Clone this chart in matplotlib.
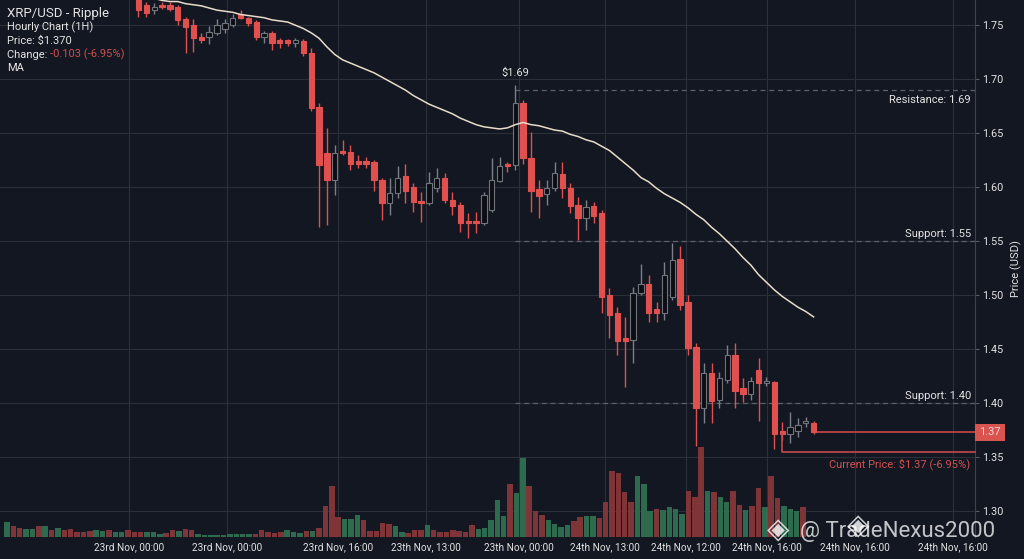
import numpy as np
import matplotlib
matplotlib.use("Agg")
import matplotlib.pyplot as plt
import matplotlib.transforms as mtransforms

plt.rcParams['font.family'] = ['Roboto', 'DejaVu Sans']

# hourly candles, oldest first
opens = [1.776, 1.769, 1.764, 1.769, 1.769, 1.767, 1.756, 1.750, 1.739, 1.739,
         1.743, 1.747, 1.750, 1.760, 1.757, 1.753, 1.739, 1.743, 1.736, 1.736,
         1.734, 1.735, 1.724, 1.674, 1.632, 1.607, 1.634, 1.633, 1.624, 1.624,
         1.623, 1.607, 1.585, 1.595, 1.610, 1.600, 1.587, 1.585, 1.599, 1.609,
         1.588, 1.584, 1.569, 1.569, 1.567, 1.579, 1.606, 1.622, 1.621, 1.678,
         1.627, 1.598, 1.594, 1.599, 1.612, 1.599, 1.584, 1.572, 1.583, 1.576,
         1.500, 1.484, 1.460, 1.459, 1.502, 1.510, 1.487, 1.484, 1.498, 1.534,
         1.494, 1.452, 1.396, 1.428, 1.403, 1.422, 1.445, 1.414, 1.409, 1.431,
         1.419, 1.420, 1.374, 1.372, 1.374, 1.382, 1.382]
highs = [1.780, 1.772, 1.771, 1.772, 1.772, 1.769, 1.758, 1.756, 1.743, 1.749,
         1.756, 1.756, 1.760, 1.764, 1.758, 1.755, 1.745, 1.745, 1.738, 1.737,
         1.738, 1.737, 1.729, 1.678, 1.655, 1.639, 1.644, 1.639, 1.630, 1.628,
         1.625, 1.609, 1.609, 1.620, 1.622, 1.604, 1.596, 1.614, 1.618, 1.613,
         1.596, 1.586, 1.576, 1.577, 1.596, 1.627, 1.628, 1.623, 1.695, 1.681,
         1.651, 1.607, 1.607, 1.623, 1.623, 1.604, 1.591, 1.588, 1.586, 1.579,
         1.507, 1.489, 1.480, 1.508, 1.529, 1.519, 1.494, 1.531, 1.548, 1.546,
         1.500, 1.456, 1.437, 1.437, 1.429, 1.454, 1.456, 1.423, 1.424, 1.442,
         1.424, 1.421, 1.383, 1.392, 1.386, 1.387, 1.384]
lows = [1.758, 1.758, 1.760, 1.765, 1.763, 1.750, 1.724, 1.725, 1.734, 1.733,
        1.741, 1.743, 1.748, 1.756, 1.749, 1.736, 1.734, 1.727, 1.729, 1.731,
        1.730, 1.722, 1.671, 1.563, 1.565, 1.593, 1.630, 1.616, 1.618, 1.618,
        1.597, 1.570, 1.574, 1.590, 1.585, 1.577, 1.568, 1.584, 1.596, 1.585,
        1.574, 1.559, 1.553, 1.558, 1.565, 1.577, 1.605, 1.614, 1.616, 1.622,
        1.577, 1.572, 1.584, 1.597, 1.590, 1.576, 1.551, 1.560, 1.567, 1.484,
        1.460, 1.445, 1.415, 1.437, 1.500, 1.475, 1.475, 1.477, 1.496, 1.486,
        1.445, 1.360, 1.382, 1.382, 1.396, 1.419, 1.396, 1.401, 1.403, 1.384,
        1.416, 1.358, 1.366, 1.363, 1.369, 1.378, 1.372]
closes = [1.764, 1.761, 1.767, 1.767, 1.765, 1.755, 1.748, 1.738, 1.736, 1.744,
          1.750, 1.752, 1.757, 1.757, 1.752, 1.739, 1.743, 1.734, 1.734, 1.734,
          1.736, 1.724, 1.673, 1.621, 1.607, 1.632, 1.632, 1.622, 1.622, 1.622,
          1.607, 1.585, 1.595, 1.609, 1.597, 1.586, 1.585, 1.604, 1.609, 1.588,
          1.583, 1.567, 1.567, 1.567, 1.593, 1.607, 1.620, 1.620, 1.678, 1.627,
          1.597, 1.592, 1.599, 1.613, 1.599, 1.583, 1.572, 1.582, 1.573, 1.498,
          1.482, 1.458, 1.458, 1.502, 1.510, 1.484, 1.484, 1.519, 1.533, 1.491,
          1.451, 1.396, 1.428, 1.402, 1.423, 1.445, 1.411, 1.409, 1.421, 1.419,
          1.420, 1.372, 1.372, 1.378, 1.380, 1.383, 1.373]
ma = [1.778, 1.776, 1.775, 1.773, 1.772, 1.772, 1.770, 1.769, 1.768, 1.766,
      1.764, 1.763, 1.762, 1.760, 1.759, 1.758, 1.757, 1.755, 1.754, 1.753,
      1.750, 1.747, 1.743, 1.738, 1.730, 1.723, 1.718, 1.715, 1.712, 1.709,
      1.706, 1.702, 1.698, 1.694, 1.690, 1.685, 1.681, 1.677, 1.674, 1.671,
      1.668, 1.664, 1.661, 1.658, 1.656, 1.655, 1.654, 1.655, 1.658, 1.660,
      1.658, 1.657, 1.655, 1.653, 1.652, 1.649, 1.647, 1.644, 1.642, 1.638,
      1.634, 1.628, 1.622, 1.616, 1.609, 1.605, 1.599, 1.594, 1.590, 1.586,
      1.581, 1.575, 1.570, 1.563, 1.557, 1.550, 1.543, 1.535, 1.528, 1.519,
      1.512, 1.505, 1.499, 1.494, 1.489, 1.485, 1.480]

# volume bars (own, finer time grid), g = up, r = down
volume = [15, 11, 9, 8, 8, 11, 11, 7, 9, 7,
          8, 5, 5, 6, 7, 6, 7, 5, 5, 7,
          5, 5, 5, 5, 3, 4, 7, 6, 8, 7,
          3, 2, 2, 2, 2, 3, 3, 3, 3, 3,
          7, 5, 4, 5, 7, 5, 4, 6, 6, 9,
          31, 51, 20, 18, 18, 22, 17, 6, 6, 14,
          13, 11, 5, 4, 7, 7, 12, 7, 5, 5,
          7, 6, 5, 12, 8, 9, 17, 37, 21, 53,
          44, 79, 51, 26, 22, 17, 13, 10, 12, 16,
          20, 21, 21, 19, 35, 66, 64, 45, 35, 61,
          53, 26, 28, 27, 30, 28, 23, 46, 40, 90,
          46, 45, 40, 35, 46, 32, 27, 31, 49, 30,
          61, 39, 31, 28, 26, 30]
vol_side = ("grrggrgrgr" "rrrrggrggr" "rrgggrrgrr" "gggggggggr" "rrrrgggrgr"
            "rrrgggrrrr" "rggrrrgrrr" "rrrrgggggr" "ggrrrggggr" "rggrrrrrrg"
            "ggrggggrrr" "grggrrgrrg" "rrgggr")

tick_pos = [-1.2, 11.3, 25.4, 36.6, 48.5, 59.4, 69.8, 80.1, 91.3, 103.8]
tick_labels = ["23rd Nov, 00:00", "23rd Nov, 00:00", "23rd Nov, 16:00", "23th Nov, 13:00",
               "23th Nov, 00:00", "24th Nov, 13:00", "24th Nov, 12:00", "24th Nov, 16:00",
               "24th Nov, 16:00", "24th Nov, 16:00"]

resistance = 1.69
supports = [1.55, 1.40]
current_price = 1.373
prior_low = 1.355
spike = 48

BG = '#131722'
GRID = '#2a2f3a'
TXT = '#e3e3e3'
RED = '#e0504e'
LINE_RED = '#c7484a'

fig = plt.figure(figsize=(10.24, 5.59), dpi=100, facecolor=BG)
rect = [0, 22 / 559, 975 / 1024, 537 / 559]
ax = fig.add_axes(rect, facecolor=BG)
vax = fig.add_axes(rect, facecolor='none', zorder=1)

xmax = 106.56
ax.set_xlim(-17.64, xmax)
ax.set_ylim(1.2762, 1.7734)

yt = np.arange(1.30, 1.751, 0.05)
ax.set_yticks(yt)
ax.set_yticklabels([f"{v:.2f}" for v in yt])
ax.set_xticks(tick_pos)
ax.set_xticklabels(tick_labels)
ax.grid(True, color=GRID, lw=0.8)
ax.set_axisbelow(True)

# candles
for i in range(len(opens)):
    o, h, l, c = opens[i], highs[i], lows[i], closes[i]
    up = c >= o
    ax.vlines(i, l, h, color='#7b7f87' if up else RED, lw=1.0, zorder=2)
    body = max(abs(c - o), 0.0018)
    ax.bar(i, body, bottom=min(o, c), width=0.68, zorder=3,
           color='#0c0e13' if up else RED,
           edgecolor='#6f737b' if up else RED, linewidth=0.8)

ax.plot(range(len(ma)), ma, color='#e8dcc8', lw=1.1, zorder=4)

# levels
ax.hlines([resistance] + supports, spike, xmax, colors='#5b606b', linestyles=(0, (4, 3)),
          lw=0.9, zorder=1)
right = mtransforms.blended_transform_factory(ax.transAxes, ax.transData)
ax.text(0.996, 1.681, f"Resistance: {resistance:.2f}", transform=right, ha='right', va='center',
        color=TXT, fontsize=8)
ax.text(0.996, 1.557, f"Support: {supports[0]:.2f}", transform=right, ha='right', va='center',
        color=TXT, fontsize=8)
ax.text(0.996, 1.407, f"Support: {supports[1]:.2f}", transform=right, ha='right', va='center',
        color=TXT, fontsize=8)
ax.text(spike, 1.706, f"${resistance:.2f}", ha='center', va='center', color=TXT, fontsize=8)

# current price
last = len(closes) - 1
ax.hlines(current_price, last + 0.4, xmax, color=LINE_RED, lw=1.2, zorder=4)
ax.plot([last - 4, last - 4, xmax], [closes[last - 4], prior_low, prior_low], color=LINE_RED,
        lw=1.2, zorder=4, clip_on=False)
ax.text(0.995, 1.344, "Current Price: $1.37 (-6.95%)", transform=right, ha='right', va='center',
        color='#d0504f', fontsize=8)
ax.text(1.0 + 4 / 975, current_price, "1.37", transform=right, ha='left', va='center',
        color='#f3d6d6', fontsize=8, clip_on=False,
        bbox=dict(boxstyle='square,pad=0.35', fc='#d9534f', ec='none'))

# axes styling
ax.yaxis.tick_right()
ax.yaxis.set_label_position('right')
ax.set_ylabel('Price (USD)', color=TXT, fontsize=8, labelpad=5)
ax.tick_params(axis='y', colors='#555b66', labelcolor=TXT, labelsize=7.8, length=3, pad=2)
ax.tick_params(axis='x', length=0, labelcolor=TXT, labelsize=7.2, pad=4)
for s in ['top', 'left', 'bottom']:
    ax.spines[s].set_visible(False)
ax.spines['right'].set_color('#3d424d')

# volume
vax.set_xlim(-1.1, 152.0)
vax.set_ylim(0, max(volume) * 5.97)
vcol = ['#2e6b4e' if s == 'g' else '#7f3438' for s in vol_side]
vax.bar(range(len(volume)), volume, width=0.86, color=vcol)
vax.axis('off')

# header
fig.text(7 / 1024, 1 - 13 / 559, "XRP/USD - Ripple", color=TXT, fontsize=9.5, va='center')
fig.text(7 / 1024, 1 - 27 / 559, "Hourly Chart (1H)", color=TXT, fontsize=8, va='center')
fig.text(7 / 1024, 1 - 41 / 559, "Price: $1.370", color=TXT, fontsize=8, va='center')
t = fig.text(7 / 1024, 1 - 55 / 559, "Change: ", color=TXT, fontsize=8, va='center')
ax.annotate("-0.103 (-6.95%)", xy=(1, 0), xycoords=t, ha='left', va='bottom',
            color='#cf4f4f', fontsize=8, annotation_clip=False)
fig.text(7 / 1024, 1 - 68 / 559, "MA", color=TXT, fontsize=8, va='center')

# watermark
for x0, y0 in [(767, 530), (847, 526)]:
    fig.text(x0 / 1024, 1 - y0 / 559, "\u25c8", color='white', alpha=0.8, fontsize=21,
             va='center', zorder=10)
fig.text(800 / 1024, 1 - 532 / 559, "@ TradeNexus2000", color='white', alpha=0.75,
         fontsize=16, va='center', zorder=10)

fig.savefig('out.png', dpi=100, facecolor=BG)
